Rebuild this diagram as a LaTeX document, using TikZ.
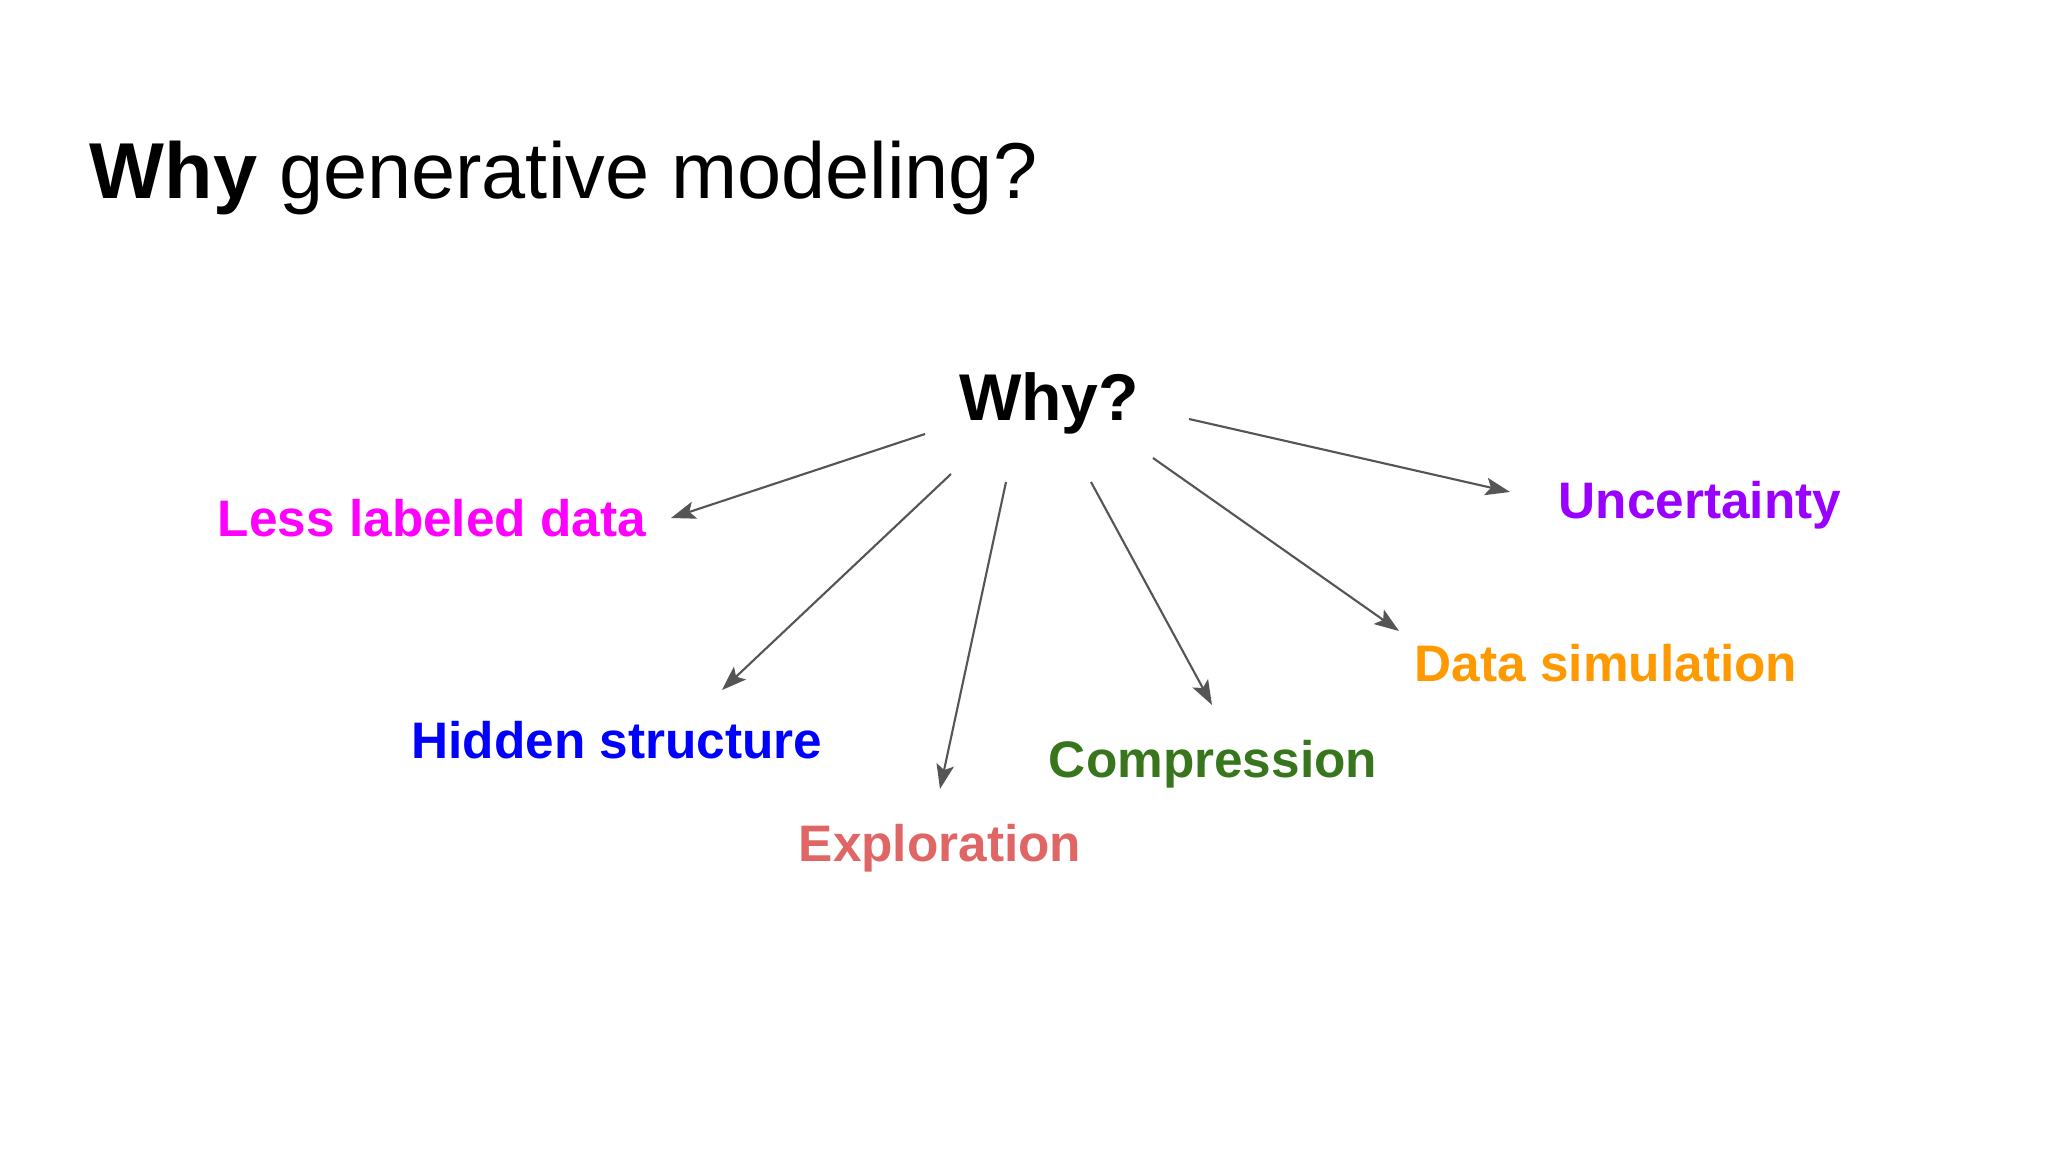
\documentclass[tikz,border=0pt]{standalone}
\usepackage{fontspec}
\setmainfont{Liberation Sans}
\usetikzlibrary{arrows.meta}
\definecolor{cmag}{HTML}{FF00FF}
\definecolor{cblue}{HTML}{0000FF}
\definecolor{csalmon}{HTML}{E06666}
\definecolor{cgreen}{HTML}{38761D}
\definecolor{corange}{HTML}{FF9900}
\definecolor{cpurple}{HTML}{9900FF}
\definecolor{carrow}{HTML}{555555}
\tikzset{
  lbl/.style={inner sep=0pt, anchor=base, font=\fontsize{14.6pt}{17pt}\selectfont\bfseries},
  conn/.style={draw=carrow, line width=0.6pt, -{Stealth[length=7pt,width=5pt,inset=1.5pt]}}
}
\begin{document}
\begin{tikzpicture}[x=0.01cm,y=-0.01cm]
\useasboundingbox[fill=white] (0,0) rectangle (2048,1152);
\node[inner sep=0pt, anchor=base west, font=\fontsize{22.55pt}{27pt}\selectfont] (title) at (89,199) {\textbf{Why} generative modeling?};
\node[inner sep=0pt, anchor=base, font=\fontsize{18.8pt}{22pt}\selectfont\bfseries] (why) at (1049,421) {Why?};
\node[lbl, text=cmag] (less) at (432,537) {Less labeled data};
\node[lbl, text=cblue] (hidden) at (617,758) {Hidden structure};
\node[lbl, text=csalmon] (explo) at (940,861) {Exploration};
\node[lbl, text=cgreen] (compr) at (1213,777) {Compression};
\node[lbl, text=corange] (datasim) at (1606,681) {Data simulation};
\node[lbl, text=cpurple] (uncert) at (1700,519) {Uncertainty};
\coordinate (s1) at (925,434); \coordinate (e1) at (671,518);
\coordinate (s2) at (951,474); \coordinate (e2) at (722,690);
\coordinate (s3) at (1006,482); \coordinate (e3) at (940,789);
\coordinate (s4) at (1091,482); \coordinate (e4) at (1212,705);
\coordinate (s5) at (1153,458); \coordinate (e5) at (1399,631);
\coordinate (s6) at (1189,419); \coordinate (e6) at (1510,492);
\draw[conn] (s1) -- (e1);
\draw[conn] (s2) -- (e2);
\draw[conn] (s3) -- (e3);
\draw[conn] (s4) -- (e4);
\draw[conn] (s5) -- (e5);
\draw[conn] (s6) -- (e6);
\end{tikzpicture}
\end{document}
